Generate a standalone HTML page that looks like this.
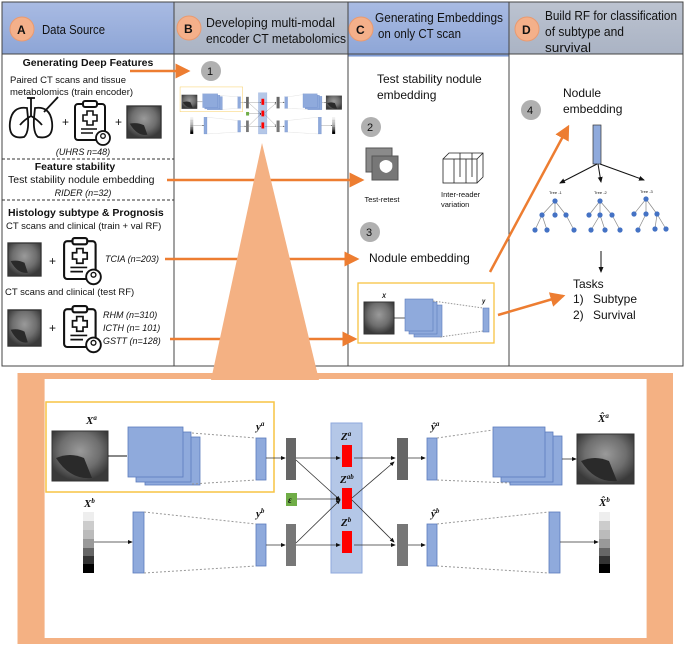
<!DOCTYPE html>
<html><head><meta charset="utf-8"><style>
html,body{margin:0;padding:0;background:#fff}
svg{display:block}
text{font-family:"Liberation Sans",sans-serif;fill:#111}
.it{font-style:italic}
.b{font-weight:bold}
</style></head><body>
<svg width="685" height="646" viewBox="0 0 685 646" xmlns="http://www.w3.org/2000/svg">
<defs>
<linearGradient id="hb" x1="0" y1="0" x2="0" y2="1"><stop offset="0" stop-color="#a9bbe3"/><stop offset="1" stop-color="#8da5d6"/></linearGradient>
<linearGradient id="hg" x1="0" y1="0" x2="0" y2="1"><stop offset="0" stop-color="#bcc3d0"/><stop offset="1" stop-color="#aab3c4"/></linearGradient>
<radialGradient id="ct" cx="0.5" cy="0.4" r="0.6"><stop offset="0" stop-color="#9a9a9a"/><stop offset="0.6" stop-color="#6e6e6e"/><stop offset="1" stop-color="#3a3a3a"/></radialGradient>
<marker id="oa" markerWidth="6" markerHeight="6" refX="5" refY="3" orient="auto"><path d="M0,0 L6,3 L0,6 z" fill="#ed7d31"/></marker>
<marker id="ka" markerWidth="6" markerHeight="6" refX="5" refY="3" orient="auto"><path d="M0,0.5 L6,3 L0,5.5 z" fill="#111"/></marker>
<g id="ctimg"><rect x="0" y="0" width="1" height="1" fill="url(#ct)" stroke="#333" stroke-width="0.04"/><path d="M0.08,0.55 Q0.3,0.95 0.6,0.9 L0.5,0.6 Q0.3,0.5 0.08,0.55z" fill="#2a2a2a"/></g>
<g id="clip"><rect x="2" y="4" width="30" height="36" rx="3" fill="#fff" stroke="#111" stroke-width="2"/><rect x="10" y="1" width="14" height="6" rx="2" fill="#fff" stroke="#111" stroke-width="2"/><path d="M14,11 h6 v4 h4 v6 h-4 v4 h-6 v-4 h-4 v-6 h4z" fill="none" stroke="#111" stroke-width="1.6"/><path d="M8,29 h16 M8,33 h12" stroke="#111" stroke-width="1.6"/><circle cx="30" cy="38" r="7" fill="#fff" stroke="#111" stroke-width="1.8"/><circle cx="30" cy="36" r="2.3" fill="none" stroke="#111" stroke-width="1.3"/></g>
<g id="diag">
<rect x="46" y="402" width="228" height="90" fill="none" stroke="#f7c443" stroke-width="1.5"/>
<rect x="52" y="431" width="56" height="50" fill="url(#ct)" stroke="#333"/>
<path d="M56,458 Q70,480 92,478 L84,458 Q70,452 56,458z" fill="#2a2a2a"/>
<line x1="108" y1="456" x2="127" y2="456" stroke="#111"/>
<g fill="#8faadc" stroke="#5b7bbd" stroke-width="0.8"><rect x="145" y="437" width="55" height="48"/><rect x="136" y="432" width="55" height="50"/><rect x="128" y="427" width="55" height="50"/></g>
<path d="M192,433 L256,438 M192,484 L256,480" stroke="#999" stroke-dasharray="2,2" fill="none"/>
<g fill="#8faadc" stroke="#5b7bbd" stroke-width="0.8"><rect x="256" y="438" width="10" height="42"/><rect x="133" y="512" width="11" height="61"/><rect x="256" y="524" width="10" height="42"/><rect x="427" y="438" width="10" height="42"/><rect x="427" y="524" width="10" height="42"/><rect x="549" y="512" width="11" height="61"/>
<rect x="510" y="436" width="52" height="49"/><rect x="501" y="432" width="52" height="50"/><rect x="493" y="427" width="52" height="50"/></g>
<path d="M144,512 L256,524 M144,573 L256,566 M437,524 L549,512 M437,566 L549,573 M437,438 L493,430 M437,480 L510,483" stroke="#999" stroke-dasharray="2,2" fill="none"/>
<rect x="286" y="438" width="10" height="42" fill="#666"/><rect x="397" y="438" width="11" height="42" fill="#666"/>
<rect x="286" y="524" width="10" height="42" fill="#777"/><rect x="397" y="524" width="11" height="42" fill="#777"/>
<rect x="331" y="423" width="31" height="150" fill="#b4c7e7" stroke="#8faadc"/>
<g fill="#f00"><rect x="342" y="445" width="10" height="22"/><rect x="342" y="488" width="10" height="21"/><rect x="342" y="531" width="10" height="22"/></g>
<rect x="286" y="493" width="11" height="13" fill="#70ad47"/>
<g stroke="#333" stroke-width="0.8" fill="none" marker-end="url(#ka)">
<line x1="266" y1="458" x2="285" y2="458"/><line x1="296" y1="458" x2="340" y2="458"/><line x1="354" y1="458" x2="395" y2="458"/><line x1="408" y1="458" x2="425" y2="458"/>
<line x1="94" y1="542" x2="132" y2="542"/><line x1="266" y1="545" x2="285" y2="545"/><line x1="296" y1="545" x2="340" y2="545"/><line x1="354" y1="545" x2="395" y2="545"/><line x1="408" y1="545" x2="425" y2="545"/><line x1="560" y1="542" x2="598" y2="542"/>
<line x1="297" y1="499" x2="340" y2="499"/><line x1="296" y1="460" x2="340" y2="500"/><line x1="296" y1="543" x2="340" y2="500"/><line x1="352" y1="498" x2="394" y2="462"/><line x1="352" y1="500" x2="394" y2="542"/><line x1="562" y1="459" x2="576" y2="459"/>
</g>
<rect x="577" y="434" width="57" height="50" fill="url(#ct)" stroke="#333"/>
<path d="M581,461 Q595,483 617,481 L609,461 Q595,455 581,461z" fill="#2a2a2a"/>
<g><rect x="83" y="512" width="11" height="9" fill="#eee"/><rect x="83" y="521" width="11" height="9" fill="#ccc"/><rect x="83" y="530" width="11" height="9" fill="#bbb"/><rect x="83" y="539" width="11" height="9" fill="#999"/><rect x="83" y="548" width="11" height="8" fill="#666"/><rect x="83" y="556" width="11" height="8" fill="#333"/><rect x="83" y="564" width="11" height="9" fill="#000"/></g>
<g><rect x="599" y="512" width="11" height="9" fill="#eee"/><rect x="599" y="521" width="11" height="9" fill="#ccc"/><rect x="599" y="530" width="11" height="9" fill="#bbb"/><rect x="599" y="539" width="11" height="9" fill="#999"/><rect x="599" y="548" width="11" height="8" fill="#666"/><rect x="599" y="556" width="11" height="8" fill="#333"/><rect x="599" y="564" width="11" height="9" fill="#000"/></g>
</g>
</defs>

<!-- top panel -->
<rect x="2" y="2" width="172" height="52" fill="url(#hb)"/>
<rect x="174" y="2" width="174" height="52" fill="url(#hg)"/>
<rect x="348" y="2" width="161" height="54" fill="url(#hb)" stroke="#6f8fcf"/>
<rect x="509" y="2" width="174" height="52" fill="url(#hg)"/>
<g fill="none" stroke="#444" stroke-width="1">
<rect x="2" y="2" width="681" height="364"/>
<line x1="174" y1="2" x2="174" y2="366"/><line x1="348" y1="2" x2="348" y2="366"/><line x1="509" y1="2" x2="509" y2="366"/>
<line x1="2" y1="54" x2="683" y2="54"/>
</g>
<g fill="#f4b08a" stroke="#e99a70"><circle cx="22" cy="29" r="12"/><circle cx="189" cy="28" r="12"/><circle cx="361" cy="29" r="12"/><circle cx="527" cy="29" r="12"/></g>
<g font-size="12"><text x="17" y="34" class="b">A</text><text x="184" y="33" class="b">B</text><text x="356" y="34" class="b">C</text><text x="522" y="34" class="b">D</text></g>
<g font-size="12.5">
<text x="42" y="34" textLength="63" lengthAdjust="spacingAndGlyphs">Data Source</text>
<text x="206" y="27" textLength="129" lengthAdjust="spacingAndGlyphs">Developing multi-modal</text><text x="206" y="43" textLength="140" lengthAdjust="spacingAndGlyphs">encoder CT metabolomics</text>
<text x="375" y="22" textLength="128" lengthAdjust="spacingAndGlyphs">Generating Embeddings</text><text x="378" y="38" textLength="83" lengthAdjust="spacingAndGlyphs">on only CT scan</text>
<text x="545" y="20" textLength="132" lengthAdjust="spacingAndGlyphs">Build RF for classification</text><text x="545" y="36" textLength="79" lengthAdjust="spacingAndGlyphs">of subtype and</text><text x="545" y="52" textLength="46" lengthAdjust="spacingAndGlyphs">survival</text>
</g>

<!-- column A -->
<text x="88" y="66" font-size="10.5" class="b" text-anchor="middle">Generating Deep Features</text>
<text x="10" y="83" font-size="9.5">Paired CT scans and tissue</text>
<text x="10" y="95" font-size="9.5">metabolomics (train encoder)</text>
<g fill="none" stroke="#111" stroke-width="1.8">
<path d="M31,98 v18 M27,98 h8 M31,116 q-7,4 -11,9 M31,116 q7,4 11,9"/>
<path d="M27,108 Q12,106 10,122 Q8,140 24,137 Q29,133 28,118z"/>
<path d="M35,108 Q50,106 52,122 Q54,140 38,137 Q33,133 34,118z"/>
<path d="M44,112 L58,97"/>
</g>
<text x="62" y="126" font-size="12">+</text>
<use href="#clip" transform="translate(73,100) scale(1.0)"/>
<text x="115" y="126" font-size="12">+</text>
<use href="#ctimg" transform="translate(127,106) scale(34,32)"/>
<text x="83" y="155" font-size="9" class="it" text-anchor="middle">(UHRS n=48)</text>
<line x1="2" y1="159" x2="174" y2="159" stroke="#333" stroke-dasharray="3,2"/>
<text x="75" y="170" font-size="10.5" class="b" text-anchor="middle">Feature stability</text>
<text x="8" y="183" font-size="10.5">Test stability nodule embedding</text>
<text x="83" y="196" font-size="9" class="it" text-anchor="middle">RIDER (n=32)</text>
<line x1="2" y1="200" x2="174" y2="200" stroke="#333" stroke-dasharray="3,2"/>
<text x="8" y="216" font-size="10.5" class="b">Histology subtype &amp; Prognosis</text>
<text x="6" y="229" font-size="9.5">CT scans and clinical (train + val RF)</text>
<use href="#ctimg" transform="translate(8,243) scale(33,33)"/>
<text x="49" y="265" font-size="12">+</text>
<use href="#clip" transform="translate(62,237) scale(1.05)"/>
<text x="105" y="262" font-size="9" class="it">TCIA (n=203)</text>
<text x="5" y="295" font-size="9.5">CT scans and clinical (test RF)</text>
<use href="#ctimg" transform="translate(8,310) scale(33,36)"/>
<text x="49" y="332" font-size="12">+</text>
<use href="#clip" transform="translate(62,305) scale(1.05)"/>
<text x="103" y="318" font-size="9" class="it">RHM (n=310)</text>
<text x="103" y="331" font-size="9" class="it">ICTH (n= 101)</text>
<text x="103" y="344" font-size="9" class="it">GSTT (n=128)</text>

<!-- column B -->
<circle cx="211" cy="71" r="10" fill="#b0b0b0"/><text x="207" y="75" font-size="11">1</text>
<use href="#diag" transform="translate(167.4,-23.6) scale(0.275)"/>

<!-- column C -->
<text x="377" y="83" font-size="12">Test stability nodule</text>
<text x="377" y="99" font-size="12">embedding</text>
<circle cx="371" cy="127" r="10" fill="#b0b0b0"/><text x="367" y="131" font-size="11">2</text>
<rect x="366" y="148" width="26" height="24" fill="#8a8a8a" stroke="#555"/>
<rect x="372" y="156" width="26" height="24" fill="#777" stroke="#555"/>
<path d="M380,163 q6,-6 12,0 q2,8 -6,10 q-8,-2 -6,-10z" fill="#fff"/>
<text x="382" y="202" font-size="7.5" text-anchor="middle">Test-retest</text>
<g fill="none" stroke="#222" stroke-width="0.8"><rect x="443" y="159" width="34" height="24"/><path d="M443,159 l6,-6 h34 v24 l-6,6 M477,159 l6,-6 M454,159 v24 M466,159 v24 M460,153 v24 M472,153 v24"/></g>
<text x="441" y="197" font-size="7.5">Inter-reader</text><text x="441" y="207" font-size="7.5">variation</text>
<circle cx="370" cy="232" r="10" fill="#b0b0b0"/><text x="366" y="236" font-size="11">3</text>
<text x="369" y="262" font-size="12">Nodule embedding</text>
<rect x="358" y="283" width="136" height="60" fill="#fff" stroke="#f7c443" stroke-width="1.3"/>
<rect x="364" y="302" width="30" height="32" fill="url(#ct)" stroke="#333"/>
<text x="382" y="298" font-size="6" class="it b">X</text>
<line x1="394" y1="318" x2="405" y2="318" stroke="#111" stroke-width="0.7"/>
<g fill="#8faadc" stroke="#5b7bbd" stroke-width="0.6"><rect x="414" y="305" width="28" height="32"/><rect x="409" y="302" width="28" height="32"/><rect x="405" y="299" width="28" height="32"/></g>
<path d="M433,301 L483,308 M440,337 L483,331" stroke="#999" stroke-dasharray="1.5,1.5"/>
<rect x="483" y="308" width="6" height="24" fill="#8faadc" stroke="#5b7bbd" stroke-width="0.6"/>
<text x="482" y="303" font-size="6" class="it b">y</text>

<!-- column D -->
<circle cx="531" cy="110" r="10" fill="#b0b0b0"/><text x="527" y="114" font-size="11">4</text>
<text x="563" y="97" font-size="12">Nodule</text><text x="563" y="113" font-size="12">embedding</text>
<rect x="593" y="125" width="8" height="39" fill="#8faadc" stroke="#333" stroke-width="0.7"/>
<g stroke="#111" stroke-width="1" marker-end="url(#ka)"><line x1="597" y1="164" x2="560" y2="183"/><line x1="598" y1="164" x2="601" y2="182"/><line x1="600" y1="164" x2="644" y2="180"/><line x1="601" y1="251" x2="601" y2="272"/></g>
<g font-size="4" fill="#333"><text x="549" y="194">Tree -1</text><text x="594" y="194">Tree -2</text><text x="640" y="193">Tree -3</text></g>
<g stroke="#888" stroke-width="0.7">
<path d="M555,201 L542,215 M555,201 L555,215 M555,201 L566,215 M542,215 L535,230 M542,215 L547,230 M566,215 L574,230"/>
<path d="M600,201 L589,215 M600,201 L600,215 M600,201 L612,215 M600,215 L591,230 M600,215 L605,230 M612,215 L620,230"/>
<path d="M646,199 L634,214 M646,199 L646,214 M646,199 L657,214 M646,214 L638,230 M657,214 L655,229 M657,214 L666,229"/>
</g>
<g fill="#4472c4">
<circle cx="555" cy="201" r="2.6"/><circle cx="542" cy="215" r="2.6"/><circle cx="555" cy="215" r="2.6"/><circle cx="566" cy="215" r="2.6"/><circle cx="535" cy="230" r="2.6"/><circle cx="547" cy="230" r="2.6"/><circle cx="574" cy="230" r="2.6"/>
<circle cx="600" cy="201" r="2.6"/><circle cx="589" cy="215" r="2.6"/><circle cx="600" cy="215" r="2.6"/><circle cx="612" cy="215" r="2.6"/><circle cx="591" cy="230" r="2.6"/><circle cx="605" cy="230" r="2.6"/><circle cx="620" cy="230" r="2.6"/>
<circle cx="646" cy="199" r="2.6"/><circle cx="634" cy="214" r="2.6"/><circle cx="646" cy="214" r="2.6"/><circle cx="657" cy="214" r="2.6"/><circle cx="638" cy="230" r="2.6"/><circle cx="655" cy="229" r="2.6"/><circle cx="666" cy="229" r="2.6"/>
</g>
<text x="573" y="288" font-size="12">Tasks</text>
<text x="573" y="303" font-size="12">1)<tspan x="593">Subtype</tspan></text>
<text x="573" y="319" font-size="12">2)<tspan x="593">Survival</tspan></text>

<!-- orange arrows -->
<g stroke="#ed7d31" stroke-width="2.5" fill="none" marker-end="url(#oa)">
<line x1="130" y1="71" x2="188" y2="71"/>
<line x1="167" y1="180" x2="362" y2="180"/>
<line x1="165" y1="259" x2="357" y2="259"/>
<line x1="170" y1="339" x2="355" y2="339"/>
<line x1="490" y1="272" x2="568" y2="127"/>
<line x1="498" y1="315" x2="563" y2="296"/>
</g>

<!-- bottom panel -->
<rect x="17.5" y="373" width="655.5" height="271" fill="#f4b183"/>
<rect x="44.6" y="379" width="602" height="259" fill="#fff"/>
<polygon points="262,143 211,380 319,380" fill="#f4b183"/>
<use href="#diag"/>
<g font-style="italic" font-weight="bold" font-size="11">
<text x="86" y="424" style="font-family:'Liberation Serif',serif">X<tspan font-size="7" dy="-4">a</tspan></text>
<text x="256" y="430" style="font-family:'Liberation Serif',serif">y<tspan font-size="7" dy="-4">a</tspan></text>
<text x="341" y="440" style="font-family:'Liberation Serif',serif">Z<tspan font-size="7" dy="-4">a</tspan></text>
<text x="340" y="483" style="font-family:'Liberation Serif',serif">Z<tspan font-size="7" dy="-4">ab</tspan></text>
<text x="341" y="526" style="font-family:'Liberation Serif',serif">Z<tspan font-size="7" dy="-4">b</tspan></text>
<text x="288" y="503" font-size="9" style="font-family:'Liberation Serif',serif">ε</text>
<text x="84" y="507" style="font-family:'Liberation Serif',serif">X<tspan font-size="7" dy="-4">b</tspan></text>
<text x="256" y="517" style="font-family:'Liberation Serif',serif">y<tspan font-size="7" dy="-4">b</tspan></text>
<text x="431" y="430" style="font-family:'Liberation Serif',serif">ŷ<tspan font-size="7" dy="-4">a</tspan></text>
<text x="431" y="517" style="font-family:'Liberation Serif',serif">ŷ<tspan font-size="7" dy="-4">b</tspan></text>
<text x="598" y="422" style="font-family:'Liberation Serif',serif">X̂<tspan font-size="7" dy="-4">a</tspan></text>
<text x="599" y="506" style="font-family:'Liberation Serif',serif">X̂<tspan font-size="7" dy="-4">b</tspan></text>
</g>
</svg>
</body></html>
